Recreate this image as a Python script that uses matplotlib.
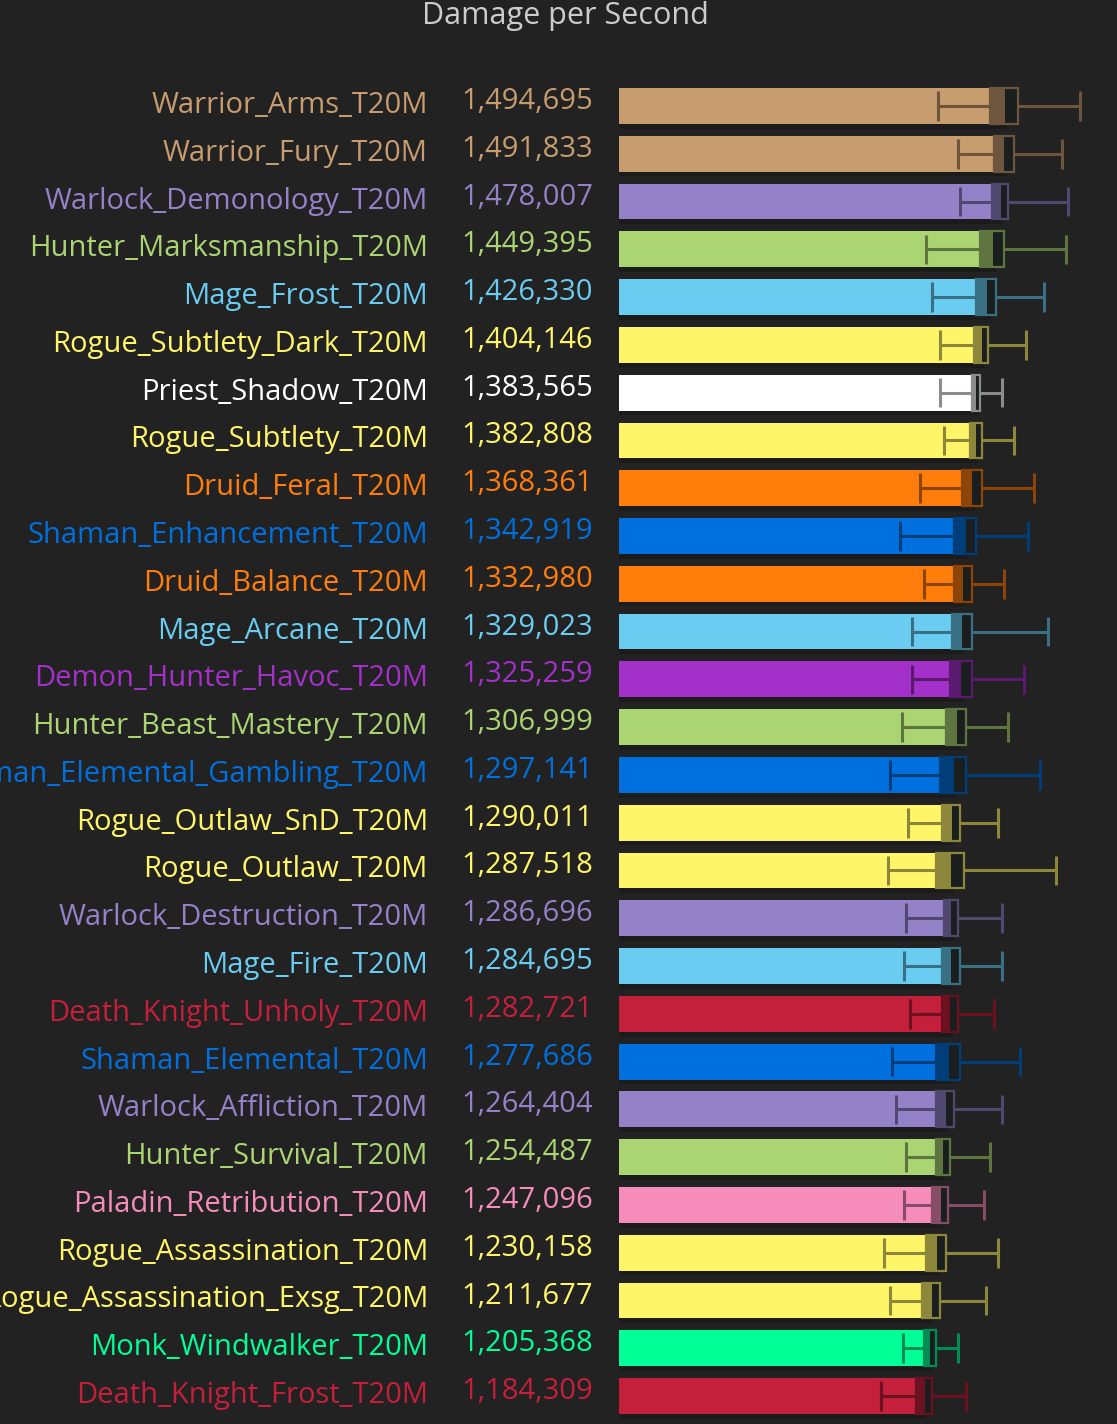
import matplotlib
matplotlib.use("Agg")
import matplotlib.pyplot as plt
import matplotlib.transforms as mtransforms
from matplotlib.colors import to_rgb

plt.rcParams['font.family'] = ['Open Sans', 'DejaVu Sans']

names = [
    "Warrior_Arms_T20M", "Warrior_Fury_T20M", "Warlock_Demonology_T20M",
    "Hunter_Marksmanship_T20M", "Mage_Frost_T20M", "Rogue_Subtlety_Dark_T20M",
    "Priest_Shadow_T20M", "Rogue_Subtlety_T20M", "Druid_Feral_T20M",
    "Shaman_Enhancement_T20M", "Druid_Balance_T20M", "Mage_Arcane_T20M",
    "Demon_Hunter_Havoc_T20M", "Hunter_Beast_Mastery_T20M",
    "Shaman_Elemental_Gambling_T20M", "Rogue_Outlaw_SnD_T20M", "Rogue_Outlaw_T20M",
    "Warlock_Destruction_T20M", "Mage_Fire_T20M", "Death_Knight_Unholy_T20M",
    "Shaman_Elemental_T20M", "Warlock_Affliction_T20M", "Hunter_Survival_T20M",
    "Paladin_Retribution_T20M", "Rogue_Assassination_T20M",
    "Rogue_Assassination_Exsg_T20M", "Monk_Windwalker_T20M", "Death_Knight_Frost_T20M",
]
dps = [1494695, 1491833, 1478007, 1449395, 1426330, 1404146, 1383565, 1382808,
       1368361, 1342919, 1332980, 1329023, 1325259, 1306999, 1297141, 1290011,
       1287518, 1286696, 1284695, 1282721, 1277686, 1264404, 1254487, 1247096,
       1230158, 1211677, 1205368, 1184309]
q1 = [1436600, 1452100, 1444400, 1397900, 1382400, 1374700, 1366900, 1359200,
      1328200, 1297200, 1297200, 1289500, 1281700, 1266200, 1243000, 1250800,
      1227500, 1258500, 1250800, 1250800, 1227500, 1227500, 1227500, 1212000,
      1188800, 1173300, 1181000, 1150100]
q3 = [1545000, 1529600, 1506300, 1490800, 1459900, 1428900, 1397900, 1405600,
      1405600, 1382400, 1366900, 1366900, 1366900, 1343700, 1343700, 1320400,
      1335900, 1312700, 1320400, 1312700, 1320400, 1297200, 1281700, 1274000,
      1266200, 1243000, 1227500, 1212000]
lo = [1235300, 1312700, 1320400, 1188800, 1212000, 1243000, 1243000, 1258500,
      1165600, 1088100, 1181000, 1134600, 1134600, 1095900, 1049400, 1119100,
      1041700, 1111300, 1103600, 1126800, 1057100, 1072600, 1111300, 1103600,
      1026200, 1049400, 1099700, 1014500]
hi = [1785100, 1715400, 1738700, 1730900, 1645700, 1576000, 1483100, 1529600,
      1607000, 1583800, 1490800, 1661200, 1568300, 1506300, 1630200, 1467600,
      1692200, 1483100, 1483100, 1452100, 1552800, 1483100, 1436600, 1413400,
      1467600, 1421100, 1312700, 1343700]

class_colors = {
    "Warrior": "#C79C6E", "Warlock": "#9482C9", "Hunter": "#ABD473",
    "Mage": "#69CCF0", "Rogue": "#FFF569", "Priest": "#FFFFFF",
    "Druid": "#FF7D0A", "Shaman": "#0070DE", "Demon": "#A330C9",
    "Paladin": "#F58CBA", "Monk": "#00FF96", "Death": "#C41F3B",
}
colors = [class_colors[n.split("_")[0]] for n in names]


def darker(c, f=0.55):
    r, g, b = to_rgb(c)
    return (r * f, g * f, b * f)


bg = "#222222"
W, H = 1117, 1424
fig = plt.figure(figsize=(W / 100, H / 100), dpi=100, facecolor=bg)
ax = fig.add_axes([619 / W, 0, 498 / W, 1])
ax.set_facecolor(bg)

pitch = 47.78
top = -106 / pitch
bottom = (H - 106) / pitch
ax.set_ylim(bottom, top)
ax.set_xlim(0, 498 * 3872.3)
ax.axis('off')

ypos = list(range(len(names)))
dark = [darker(c) for c in colors]

# shadow under bars
ax.barh([y + 0.1 for y in ypos], [v + 9000 for v in dps], height=0.75,
        color="#1b1b1b", zorder=1)
ax.barh(ypos, dps, height=0.75, color=colors, zorder=2)

# box: darker over the bar, near-black beyond the mean
ax.barh(ypos, [b - a for a, b in zip(q1, q3)], left=q1, height=0.75,
        color=dark, zorder=3)
ax.barh(ypos, [b - a for a, b in zip(dps, q3)], left=dps, height=0.75,
        color="#1a1e1e", zorder=4)
ax.barh(ypos, [b - a for a, b in zip(q1, q3)], left=q1, height=0.75,
        fill=False, edgecolor=dark, linewidth=1.6, zorder=5)

# whiskers
ax.hlines(ypos, lo, q1, colors=dark, linewidth=2.2, zorder=5)
ax.hlines(ypos, q3, hi, colors=dark, linewidth=2.2, zorder=5)
ax.vlines(lo, [y - 0.31 for y in ypos], [y + 0.31 for y in ypos],
          colors=dark, linewidth=2.2, zorder=5)
ax.vlines(hi, [y - 0.31 for y in ypos], [y + 0.31 for y in ypos],
          colors=dark, linewidth=2.2, zorder=5)

trans = mtransforms.blended_transform_factory(fig.transFigure, ax.transData)
for y, n, v, c in zip(ypos, names, dps, colors):
    ax.text(428 / W, y + 7 / pitch, n, transform=trans, ha='right',
            va='baseline', color=c, fontsize=21, clip_on=False)
    ax.text(593 / W, y + 3 / pitch, f"{v:,}", transform=trans, ha='right',
            va='baseline', color=c, fontsize=21, clip_on=False)

fig.text(565 / W, 1 - 16 / H, "Damage per Second", ha='center', va='center',
         color="#cccccc", fontsize=22)

fig.savefig("out.png", dpi=100, facecolor=bg)
